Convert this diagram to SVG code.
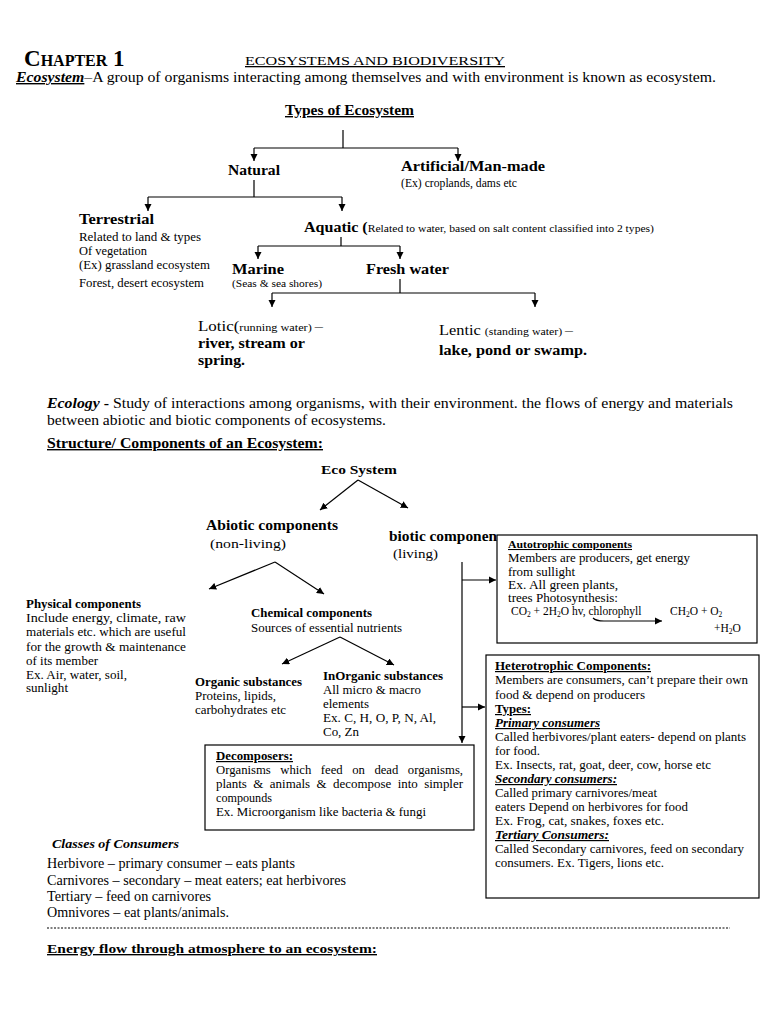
<svg xmlns="http://www.w3.org/2000/svg" width="768" height="1024" viewBox="0 0 768 1024">
<style>
text{font-family:"Liberation Serif","DejaVu Serif",serif;fill:#000}
.b{font-weight:bold}
.i{font-style:italic}
.u{text-decoration:underline}
.t11{font-size:12px}
.t12{font-size:12px}
.t13{font-size:14px}
.t15{font-size:15.5px}
.ln{stroke:#000;stroke-width:1.2;fill:none}
.box{stroke:#000;stroke-width:1.2;fill:#fff}
</style>
<defs>
<marker id="ah" viewBox="0 0 10 10" refX="10" refY="5" markerWidth="6" markerHeight="6" orient="auto"><path d="M0,0 L10,5 L0,10 z" fill="#000"/></marker>
</defs>
<rect width="768" height="1024" fill="#fff"/>

<g id="header">
<text x="24" y="66" class="b"><tspan font-size="23">C</tspan><tspan font-size="16">HAPTER</tspan><tspan font-size="23"> 1</tspan></text>
<text x="245" y="65" class="u" font-size="13" textLength="260" lengthAdjust="spacingAndGlyphs">ECOSYSTEMS AND BIODIVERSITY</text>
<text x="16" y="82" class="t13" textLength="700" lengthAdjust="spacingAndGlyphs"><tspan class="b i u">Ecosystem</tspan>–A group of organisms interacting among themselves and with environment is known as ecosystem.</text>
</g>

<g id="types-title"><text x="285" y="115" class="b u" font-size="14" textLength="129" lengthAdjust="spacingAndGlyphs">Types of Ecosystem</text></g>
<g id="natural"><text x="228" y="175" class="b t15" textLength="52" lengthAdjust="spacingAndGlyphs">Natural</text></g>
<g id="artificial">
<text x="401" y="171" class="b t15" textLength="144" lengthAdjust="spacingAndGlyphs">Artificial/Man-made</text>
<text x="401" y="187" class="t11" textLength="116" lengthAdjust="spacingAndGlyphs">(Ex) croplands, dams etc</text>
</g>
<g id="terrestrial">
<text x="79" y="224" class="b t15" textLength="75" lengthAdjust="spacingAndGlyphs">Terrestrial</text>
<text x="79" y="241" class="t11" textLength="122" lengthAdjust="spacingAndGlyphs">Related to land &amp; types</text>
<text x="79" y="255" class="t11" textLength="68" lengthAdjust="spacingAndGlyphs">Of vegetation</text>
<text x="79" y="269" class="t11" textLength="131" lengthAdjust="spacingAndGlyphs">(Ex) grassland ecosystem</text>
<text x="79" y="287" class="t11" textLength="125" lengthAdjust="spacingAndGlyphs">Forest, desert ecosystem</text>
</g>
<g id="aquatic"><text x="304" y="232" textLength="350" lengthAdjust="spacingAndGlyphs"><tspan class="b" font-size="14.5">Aquatic (</tspan><tspan font-size="10.5">Related to water, based on salt content classified into 2 types)</tspan></text></g>
<g id="marine">
<text x="232" y="274" class="b t15" textLength="52" lengthAdjust="spacingAndGlyphs">Marine</text>
<text x="232" y="287" font-size="10.5" textLength="90" lengthAdjust="spacingAndGlyphs">(Seas &amp; sea shores)</text>
</g>
<g id="freshwater"><text x="366" y="274" class="b t15" textLength="83" lengthAdjust="spacingAndGlyphs">Fresh water</text></g>
<g id="lotic">
<text x="198" y="331" textLength="125" lengthAdjust="spacingAndGlyphs"><tspan font-size="14.5">Lotic(</tspan><tspan font-size="10.5">running water) </tspan><tspan font-size="14">–</tspan></text>
<text x="198" y="348" class="b" font-size="14.5" textLength="107" lengthAdjust="spacingAndGlyphs">river, stream or</text>
<text x="198" y="365" class="b" font-size="14.5" textLength="47" lengthAdjust="spacingAndGlyphs">spring.</text>
</g>
<g id="lentic">
<text x="439" y="335" textLength="134" lengthAdjust="spacingAndGlyphs"><tspan font-size="14.5">Lentic </tspan><tspan font-size="10.5">(standing water) </tspan><tspan font-size="14">–</tspan></text>
<text x="439" y="355" class="b" font-size="14.5" textLength="148" lengthAdjust="spacingAndGlyphs">lake, pond or swamp.</text>
</g>

<g id="ecology">
<text x="47" y="408" class="t13" textLength="686" lengthAdjust="spacingAndGlyphs"><tspan class="b i">Ecology</tspan><tspan class="b"> - </tspan>Study of interactions among organisms, with their environment. the flows of energy and materials</text>
<text x="47" y="425" class="t13" textLength="339" lengthAdjust="spacingAndGlyphs">between abiotic and biotic components of ecosystems.</text>
<text x="47" y="448" class="b u t13" textLength="276" lengthAdjust="spacingAndGlyphs">Structure/ Components of an Ecosystem:</text>
</g>

<g id="ecosys"><text x="321" y="474" class="b" font-size="13.5" textLength="76" lengthAdjust="spacingAndGlyphs">Eco System</text></g>
<g id="abiotic">
<text x="206" y="530" class="b" font-size="14" textLength="132" lengthAdjust="spacingAndGlyphs">Abiotic components</text>
<text x="210" y="548" font-size="13.5" textLength="76" lengthAdjust="spacingAndGlyphs">(non-living)</text>
</g>
<g id="biotic">
<text x="389" y="541" class="b" font-size="14" textLength="108" lengthAdjust="spacingAndGlyphs">biotic componen</text>
<text x="393" y="558" font-size="13.5" textLength="45" lengthAdjust="spacingAndGlyphs">(living)</text>
</g>
<g id="physical">
<text x="26" y="608" class="b t11" textLength="115" lengthAdjust="spacingAndGlyphs">Physical components</text>
<text x="26" y="622" class="t11" textLength="160" lengthAdjust="spacingAndGlyphs">Include energy, climate, raw</text>
<text x="26" y="636" class="t11" textLength="160" lengthAdjust="spacingAndGlyphs">materials etc. which are useful</text>
<text x="26" y="651" class="t11" textLength="160" lengthAdjust="spacingAndGlyphs">for the growth &amp; maintenance</text>
<text x="26" y="665" class="t11" textLength="72" lengthAdjust="spacingAndGlyphs">of its member</text>
<text x="26" y="679" class="t11" textLength="101" lengthAdjust="spacingAndGlyphs">Ex. Air, water, soil,</text>
<text x="26" y="692" class="t11" textLength="42" lengthAdjust="spacingAndGlyphs">sunlight</text>
</g>
<g id="chemical">
<text x="251" y="617" class="b t11" textLength="121" lengthAdjust="spacingAndGlyphs">Chemical components</text>
<text x="251" y="632" class="t11" textLength="151" lengthAdjust="spacingAndGlyphs">Sources of essential nutrients</text>
</g>
<g id="organic">
<text x="195" y="686" class="b t11" textLength="107" lengthAdjust="spacingAndGlyphs">Organic substances</text>
<text x="195" y="700" class="t11" textLength="81" lengthAdjust="spacingAndGlyphs">Proteins, lipids,</text>
<text x="195" y="714" class="t11" textLength="91" lengthAdjust="spacingAndGlyphs">carbohydrates etc</text>
</g>
<g id="inorganic">
<text x="323" y="680" class="b t11" textLength="120" lengthAdjust="spacingAndGlyphs">InOrganic substances</text>
<text x="323" y="694" class="t11" textLength="98" lengthAdjust="spacingAndGlyphs">All micro &amp; macro</text>
<text x="323" y="708" class="t11" textLength="46" lengthAdjust="spacingAndGlyphs">elements</text>
<text x="323" y="722" class="t11" textLength="113" lengthAdjust="spacingAndGlyphs">Ex. C, H, O, P, N, Al,</text>
<text x="323" y="736" class="t11" textLength="36" lengthAdjust="spacingAndGlyphs">Co, Zn</text>
</g>

<g id="autotrophic">
<rect x="497" y="535" width="260" height="108" class="box"/>
<text x="508" y="548" class="b u" font-size="10.5" textLength="124" lengthAdjust="spacingAndGlyphs">Autotrophic components</text>
<text x="508" y="562" class="t11" textLength="182" lengthAdjust="spacingAndGlyphs">Members are producers, get energy</text>
<text x="508" y="576" class="t11" textLength="67" lengthAdjust="spacingAndGlyphs">from sullight</text>
<text x="508" y="589" class="t11" textLength="110" lengthAdjust="spacingAndGlyphs">Ex. All green plants,</text>
<text x="508" y="602" class="t11" textLength="110" lengthAdjust="spacingAndGlyphs">trees Photosynthesis:</text>
<text x="511" y="615" font-size="11.5">CO<tspan font-size="7.5" dy="2">2</tspan><tspan dy="-2"> + 2H</tspan><tspan font-size="7.5" dy="2">2</tspan><tspan dy="-2">O hv, chlorophyll</tspan></text>
<text x="670" y="615" font-size="11.5">CH<tspan font-size="7.5" dy="2">2</tspan><tspan dy="-2">O + O</tspan><tspan font-size="7.5" dy="2">2</tspan></text>
<text x="714" y="632" font-size="11.5">+H<tspan font-size="7.5" dy="2">2</tspan><tspan dy="-2">O</tspan></text>
<path d="M593,618 Q596,621 604,621 L662,621" class="ln" stroke-width="1" marker-end="url(#ah)"/>
</g>

<g id="heterotrophic">
<rect x="486" y="655" width="273" height="243" class="box"/>
<text x="495" y="670" class="b u t11" textLength="156" lengthAdjust="spacingAndGlyphs">Heterotrophic Components:</text>
<text x="495" y="684" class="t11" textLength="253" lengthAdjust="spacingAndGlyphs">Members are consumers, can’t prepare their own</text>
<text x="495" y="699" class="t11" textLength="150" lengthAdjust="spacingAndGlyphs">food &amp; depend on producers</text>
<text x="495" y="713" class="b u t11" textLength="36" lengthAdjust="spacingAndGlyphs">Types:</text>
<text x="495" y="727" class="b i u t11" textLength="105" lengthAdjust="spacingAndGlyphs">Primary consumers</text>
<text x="495" y="741" class="t11" textLength="251" lengthAdjust="spacingAndGlyphs">Called herbivores/plant eaters- depend on plants</text>
<text x="495" y="755" class="t11" textLength="45" lengthAdjust="spacingAndGlyphs">for food.</text>
<text x="495" y="769" class="t11" textLength="216" lengthAdjust="spacingAndGlyphs">Ex. Insects, rat, goat, deer, cow, horse etc</text>
<text x="495" y="783" class="b i u t11" textLength="122" lengthAdjust="spacingAndGlyphs">Secondary consumers:</text>
<text x="495" y="797" class="t11" textLength="162" lengthAdjust="spacingAndGlyphs">Called primary carnivores/meat</text>
<text x="495" y="811" class="t11" textLength="193" lengthAdjust="spacingAndGlyphs">eaters Depend on herbivores for food</text>
<text x="495" y="825" class="t11" textLength="169" lengthAdjust="spacingAndGlyphs">Ex. Frog, cat, snakes, foxes etc.</text>
<text x="495" y="839" class="b i u t11" textLength="114" lengthAdjust="spacingAndGlyphs">Tertiary Consumers:</text>
<text x="495" y="853" class="t11" textLength="249" lengthAdjust="spacingAndGlyphs">Called Secondary carnivores, feed on secondary</text>
<text x="495" y="867" class="t11" textLength="169" lengthAdjust="spacingAndGlyphs">consumers. Ex. Tigers, lions etc.</text>
</g>

<g id="decomposers">
<rect x="205" y="745" width="269" height="85" class="box"/>
<text x="216" y="760" class="b u t11" textLength="77" lengthAdjust="spacingAndGlyphs">Decomposers:</text>
<text x="216" y="774" class="t11" word-spacing="6" textLength="247" lengthAdjust="spacingAndGlyphs">Organisms which feed on dead organisms,</text>
<text x="216" y="788" class="t11" word-spacing="3" textLength="247" lengthAdjust="spacingAndGlyphs">plants &amp; animals &amp; decompose into simpler</text>
<text x="216" y="802" class="t11" textLength="56" lengthAdjust="spacingAndGlyphs">compounds</text>
<text x="216" y="816" class="t11" textLength="210" lengthAdjust="spacingAndGlyphs">Ex. Microorganism like bacteria &amp; fungi</text>
</g>

<g id="classes">
<text x="52" y="848" class="b i" font-size="13" textLength="127" lengthAdjust="spacingAndGlyphs">Classes of Consumers</text>
<text x="47" y="868" class="t13" textLength="248" lengthAdjust="spacingAndGlyphs">Herbivore – primary consumer – eats plants</text>
<text x="47" y="885" class="t13" textLength="299" lengthAdjust="spacingAndGlyphs">Carnivores – secondary – meat eaters; eat herbivores</text>
<text x="47" y="901" class="t13" textLength="164" lengthAdjust="spacingAndGlyphs">Tertiary – feed on carnivores</text>
<text x="47" y="917" class="t13" textLength="182" lengthAdjust="spacingAndGlyphs">Omnivores – eat plants/animals.</text>
</g>

<g id="energy">
<text x="47" y="953" class="b u" font-size="13.5" textLength="330" lengthAdjust="spacingAndGlyphs">Energy flow through atmosphere to an ecosystem:</text>
</g>

<g id="connectors">
<path d="M343,130 V148 M254,148 H458" class="ln"/>
<path d="M254,148 V161" class="ln" marker-end="url(#ah)"/>
<path d="M458,148 V161" class="ln" marker-end="url(#ah)"/>
<path d="M254,180 V197 M148,197 H342" class="ln"/>
<path d="M148,197 V211" class="ln" marker-end="url(#ah)"/>
<path d="M342,197 V211" class="ln" marker-end="url(#ah)"/>
<path d="M341,237 V246 M258,246 H400" class="ln"/>
<path d="M258,246 V259" class="ln" marker-end="url(#ah)"/>
<path d="M400,246 V259" class="ln" marker-end="url(#ah)"/>
<path d="M400,279 V293 M272,293 H535" class="ln"/>
<path d="M272,293 V307" class="ln" marker-end="url(#ah)"/>
<path d="M535,293 V307" class="ln" marker-end="url(#ah)"/>
<path d="M358,480 L320,510" class="ln" stroke-width="0.9" marker-end="url(#ah)"/>
<path d="M358,480 L408,508" class="ln" stroke-width="0.9" marker-end="url(#ah)"/>
<path d="M275,562 L209,589" class="ln" stroke-width="0.9" marker-end="url(#ah)"/>
<path d="M275,562 L324,594" class="ln" stroke-width="0.9" marker-end="url(#ah)"/>
<path d="M340,637 L282,664" class="ln" stroke-width="0.9" marker-end="url(#ah)"/>
<path d="M340,637 L394,665" class="ln" stroke-width="0.9" marker-end="url(#ah)"/>
<path d="M462,562 V743" class="ln" marker-end="url(#ah)"/>
<path d="M462,580 H496" class="ln" marker-end="url(#ah)"/>
<path d="M462,707 H485" class="ln" marker-end="url(#ah)"/>
<path d="M47,928 H730" class="ln" stroke-width="0.7" stroke-dasharray="2,1.5"/>
</g>
</svg>
